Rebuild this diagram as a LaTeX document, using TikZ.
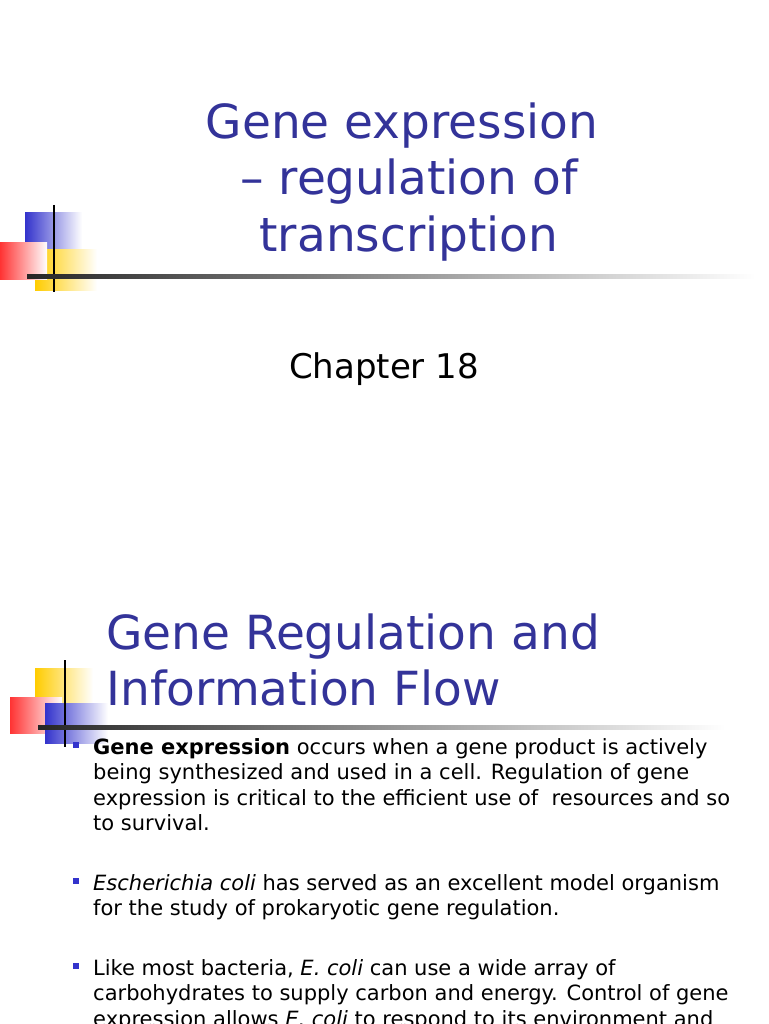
\documentclass[tikz,border=0pt]{standalone}
\usepackage{fontspec}
\setmainfont{DejaVu Sans}
\usetikzlibrary{shadings}
\definecolor{ttl}{HTML}{333399}
\definecolor{sqb}{HTML}{3333CC}
\definecolor{sqy}{HTML}{FFCC00}
\definecolor{sqr}{HTML}{FF3333}
\tikzset{
 ttlfont/.style={text=ttl,font=\fontsize{47}{56.5}\selectfont},
 body/.style={anchor=north west,align=left,font=\fontsize{21}{25.5}\selectfont,inner sep=0pt},
 bul/.style={fill=sqb,minimum size=6pt,inner sep=0pt},
}
\begin{document}
\begin{tikzpicture}[x=1pt,y=-1pt]
\useasboundingbox[fill=white] (0,0) rectangle (768,1024);
% top decoration
\shade[left color=sqb,right color=white] (25,213) rectangle (82,268);
\shade[left color=sqy,right color=white] (35,249) rectangle (97,290);
\shade[left color=sqr,right color=white] (0,242) rectangle (47,279);
\draw[line width=2pt] (54,205) -- (54,292);
\shade[left color=black!85,right color=white] (27,274) rectangle (755,278);
% titles
\node[ttlfont,align=center] (t1) at (402,182) {Gene expression\\ \hspace*{14pt}– regulation of\\ \hspace*{14pt}transcription};
\node[font=\fontsize{34}{40}\selectfont,anchor=base] (ch) at (384,378) {Chapter 18};
% second decoration
\shade[left color=sqy,right color=white] (35,668) rectangle (93,712);
\shade[left color=sqr,right color=white] (10,697) rectangle (62,733);
\shade[left color=sqb,right color=white] (45,703) rectangle (108,743);
\draw[line width=2pt] (65,660) -- (65,747);
\shade[left color=black!85,right color=white] (38,725) rectangle (725,729);
\node[ttlfont,anchor=base west,align=left] (t2) at (103,649) {Gene Regulation and};
\node[ttlfont,anchor=base west,align=left] (t3) at (103,705) {Information Flow};
% bullets
\node[bul] (b1) at (76,745) {};
\node[body] (p1) at (93,738) {\textbf{Gene expression} occurs when a gene product is actively\\ being synthesized and used in a cell. Regulation of gene\\ expression is critical to the efficient use of\ \ resources and so\\ to survival.};
\node[bul] (b2) at (76,881) {};
\node[body] (p2) at (93,874) {\textit{Escherichia coli} has served as an excellent model organism\\ for the study of prokaryotic gene regulation.};
\node[bul] (b3) at (76,966) {};
\node[body] (p3) at (93,959) {Like most bacteria, \textit{E. coli} can use a wide array of\\ carbohydrates to supply carbon and energy. Control of gene\\ expression allows \textit{E. coli} to respond to its environment and};
\end{tikzpicture}
\end{document}
